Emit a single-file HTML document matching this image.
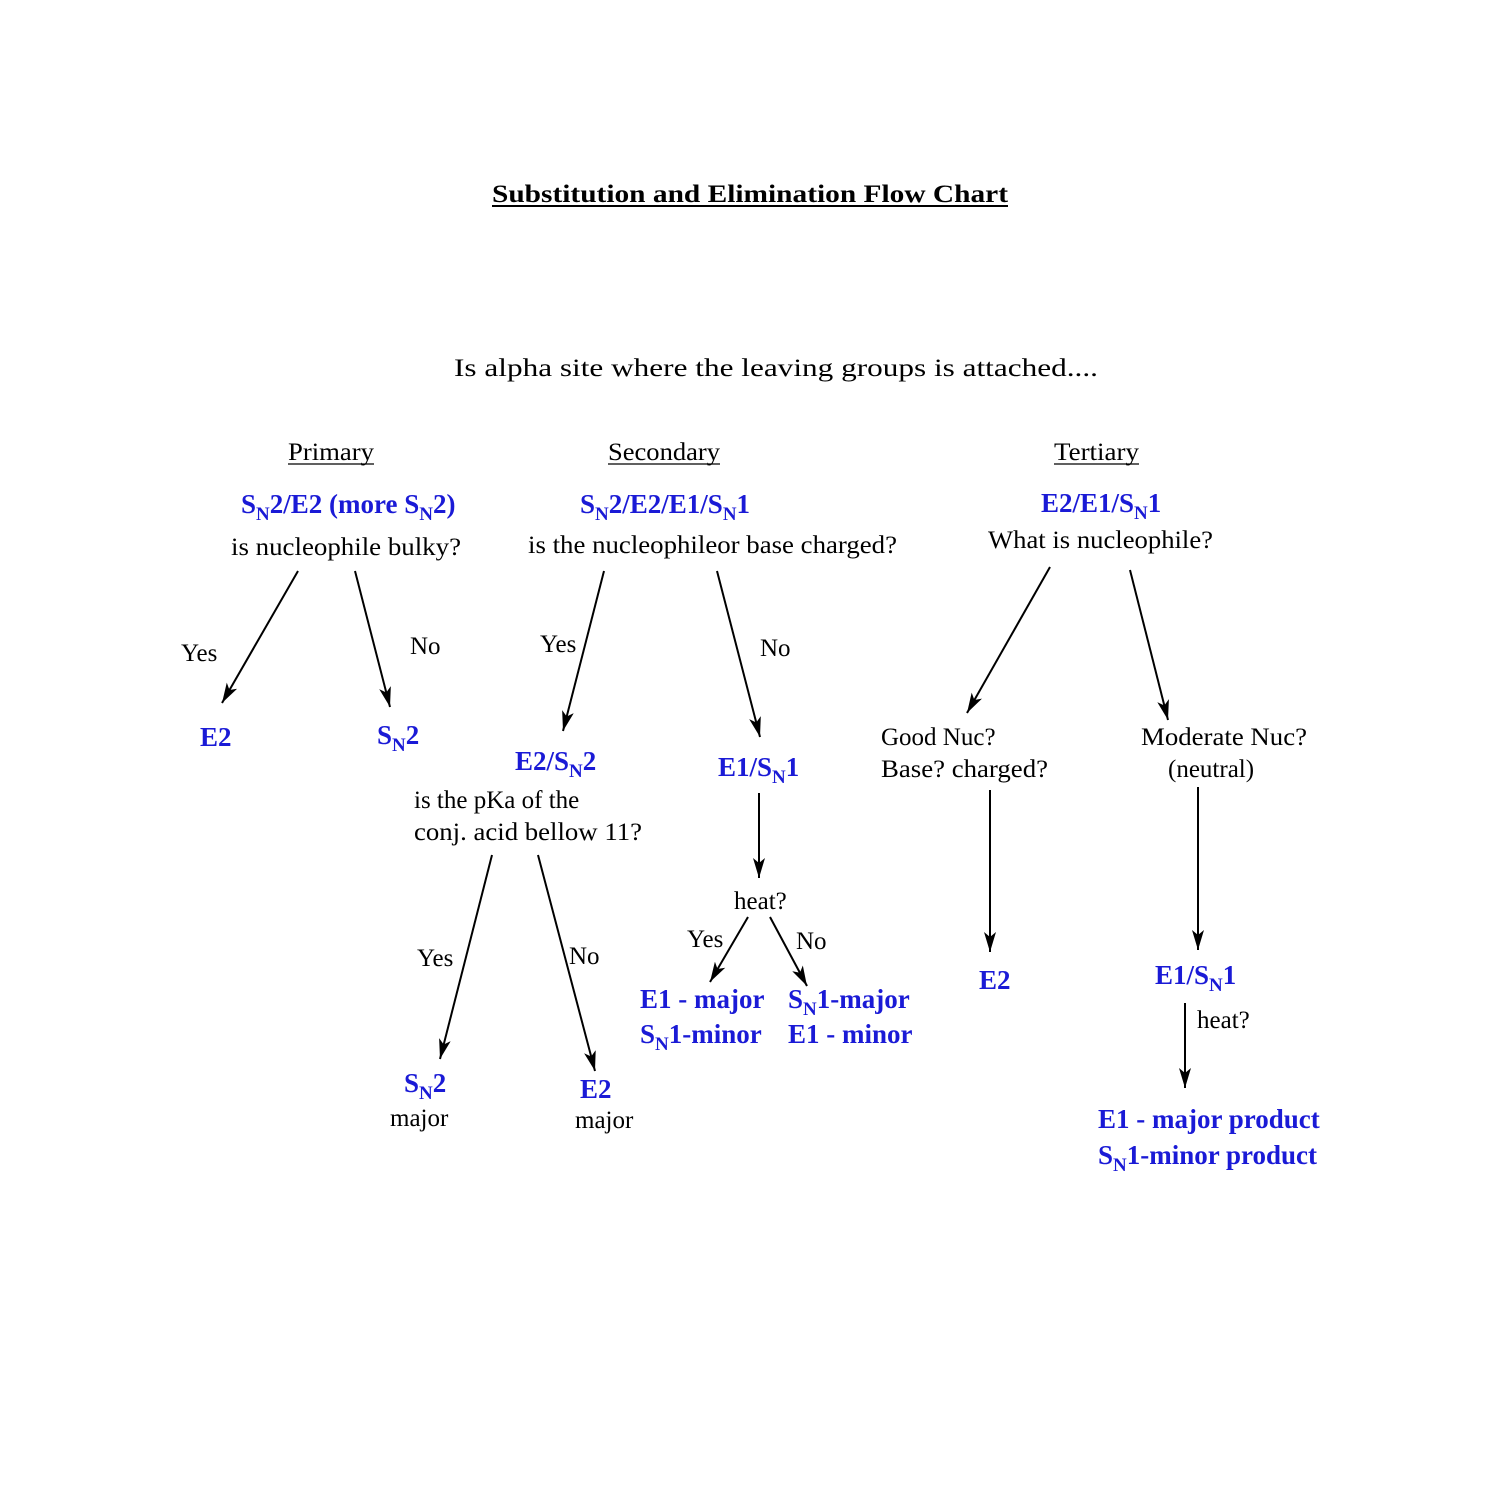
<!DOCTYPE html>
<html><head><meta charset="utf-8"><style>
html,body{margin:0;padding:0;background:#fff}
svg{display:block}
text{font-family:"Liberation Serif",serif;fill:#000;font-size:25px}
.b{fill:#1a1ad6;font-weight:bold;font-size:27px}
.s{font-size:19px}
</style></head><body>
<svg width="1500" height="1500" viewBox="0 0 1500 1500" xmlns="http://www.w3.org/2000/svg">
<defs><marker id="a" viewBox="0 0 20 12" refX="20" refY="6" markerWidth="20" markerHeight="12" markerUnits="userSpaceOnUse" orient="auto"><path d="M0,0 L20,6 L0,12 L5,6 z" fill="#000"/></marker></defs>
<g stroke="#000" stroke-width="2" marker-end="url(#a)">
<line x1="298" y1="571" x2="222" y2="703"/>
<line x1="355" y1="571" x2="390" y2="707"/>
<line x1="604" y1="571" x2="563" y2="731"/>
<line x1="717" y1="571" x2="760" y2="737"/>
<line x1="492" y1="855" x2="440" y2="1059"/>
<line x1="538" y1="855" x2="595" y2="1071"/>
<line x1="759" y1="793" x2="759" y2="878"/>
<line x1="748" y1="917" x2="710" y2="982"/>
<line x1="770" y1="917" x2="807" y2="986"/>
<line x1="1050" y1="567" x2="967" y2="713"/>
<line x1="1130" y1="570" x2="1168" y2="720"/>
<line x1="990" y1="790" x2="990" y2="952"/>
<line x1="1198" y1="787" x2="1198" y2="950"/>
<line x1="1185" y1="1003" x2="1185" y2="1088"/>
</g>
<text x="492" y="202" font-weight="bold" font-size="26" textLength="516" lengthAdjust="spacingAndGlyphs">Substitution and Elimination Flow Chart</text>
<line x1="492" y1="206" x2="1008" y2="206" stroke="#000" stroke-width="2"/>
<text x="454" y="376" font-size="29" textLength="644" lengthAdjust="spacingAndGlyphs">Is alpha site where the leaving groups is attached....</text>
<text x="288" y="460" textLength="86" lengthAdjust="spacingAndGlyphs">Primary</text><line x1="288" y1="464" x2="374" y2="464" stroke="#000" stroke-width="1.3"/>
<text x="608" y="460" textLength="112" lengthAdjust="spacingAndGlyphs">Secondary</text><line x1="608" y1="464" x2="720" y2="464" stroke="#000" stroke-width="1.3"/>
<text x="1054" y="460" textLength="85" lengthAdjust="spacingAndGlyphs">Tertiary</text><line x1="1054" y1="464" x2="1139" y2="464" stroke="#000" stroke-width="1.3"/>

<text class="b" x="241" y="513">S<tspan class="s" dy="7">N</tspan><tspan dy="-7">2/E2 (more S</tspan><tspan class="s" dy="7">N</tspan><tspan dy="-7">2)</tspan></text>
<text x="231" y="555" textLength="230" lengthAdjust="spacingAndGlyphs">is nucleophile bulky?</text>
<text x="181" y="661">Yes</text><text x="410" y="654">No</text>
<text class="b" x="200" y="746">E2</text>
<text class="b" x="377" y="744">S<tspan class="s" dy="7">N</tspan><tspan dy="-7">2</tspan></text>

<text class="b" x="580" y="513">S<tspan class="s" dy="7">N</tspan><tspan dy="-7">2/E2/E1/S</tspan><tspan class="s" dy="7">N</tspan><tspan dy="-7">1</tspan></text>
<text x="528" y="553" textLength="369" lengthAdjust="spacingAndGlyphs">is the nucleophileor base charged?</text>
<text x="540" y="652">Yes</text><text x="760" y="656">No</text>
<text class="b" x="515" y="770">E2/S<tspan class="s" dy="7">N</tspan><tspan dy="-7">2</tspan></text>
<text class="b" x="718" y="776">E1/S<tspan class="s" dy="7">N</tspan><tspan dy="-7">1</tspan></text>
<text x="414" y="808">is the pKa of the</text>
<text x="414" y="840" textLength="228" lengthAdjust="spacingAndGlyphs">conj. acid bellow 11?</text>
<text x="417" y="966">Yes</text><text x="569" y="964">No</text>
<text class="b" x="404" y="1092">S<tspan class="s" dy="7">N</tspan><tspan dy="-7">2</tspan></text>
<text x="390" y="1126">major</text>
<text class="b" x="580" y="1098">E2</text>
<text x="575" y="1128">major</text>
<text x="734" y="909">heat?</text>
<text x="687" y="947">Yes</text><text x="796" y="949">No</text>
<text class="b" x="640" y="1008">E1 - major</text>
<text class="b" x="640" y="1043">S<tspan class="s" dy="7">N</tspan><tspan dy="-7">1-minor</tspan></text>
<text class="b" x="788" y="1008">S<tspan class="s" dy="7">N</tspan><tspan dy="-7">1-major</tspan></text>
<text class="b" x="788" y="1043">E1 - minor</text>

<text class="b" x="1041" y="512">E2/E1/S<tspan class="s" dy="7">N</tspan><tspan dy="-7">1</tspan></text>
<text x="988" y="548" textLength="225" lengthAdjust="spacingAndGlyphs">What is nucleophile?</text>
<text x="881" y="745">Good Nuc?</text>
<text x="881" y="777" textLength="167" lengthAdjust="spacingAndGlyphs">Base? charged?</text>
<text x="1141" y="745" textLength="166" lengthAdjust="spacingAndGlyphs">Moderate Nuc?</text>
<text x="1168" y="777">(neutral)</text>
<text class="b" x="979" y="989">E2</text>
<text class="b" x="1155" y="984">E1/S<tspan class="s" dy="7">N</tspan><tspan dy="-7">1</tspan></text>
<text x="1197" y="1028">heat?</text>
<text class="b" x="1098" y="1128">E1 - major product</text>
<text class="b" x="1098" y="1164">S<tspan class="s" dy="7">N</tspan><tspan dy="-7">1-minor product</tspan></text>
</svg>
</body></html>
